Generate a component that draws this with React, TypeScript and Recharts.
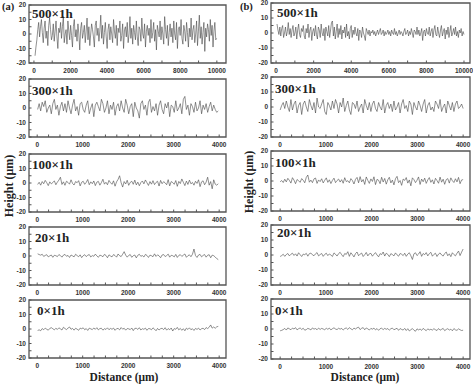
import { LineChart, Line, XAxis, YAxis, ReferenceArea } from "recharts";

// surface height profiles (µm)
const A500 = [
  -15, -9, -4, 3, 8, -2, 5, 10, 1, -6, 4, 9, -3, 2, -8, 6, 11, 3, -4, -1,
  7, -5, 2, 9, -2, -10, 4, 1, 8, -3, 5, 12, -6, 0, 3, -7, 9, 2, -4, 6,
  -1, -9, 5, 10, -2, 3, -5, 7, 0, -11, 4, 8, -3, 1, 6, -6, 2, 11, -4, 5,
  -8, 0, 7, 3, -2, -9, 6, 9, -1, 4, -5, 2, 13, -3, 6, -7, 1, 8, -2, -10,
  3, 7, -4, 5, 0, -6, 10, 2, -3, 6, -8, 4, 1, 9, -5, -1, 7, -10, 3, 5,
  -2, 8, -6, 0, 12, -3, 4, -7, 6, 1, -4, 9, -2, -8, 5, 3, -5, 11, 0, -3,
  7, -9, 2, 6, -1, 4, -6, 10, -3, 1, 8, -5, 3, -11, 6, 2, -2, 9, -4, 5,
  0, -7, 12, 3, -3, 6, -8, 1, 7, -2, 4, -6, 9, 0, -4, 8, -10, 3, 5, -1,
  10, -3, -7, 6, 2, -5, 8, 1, -9, 4, -2, 11, -4, 3, 6, -6, 0, 9, -8, 2,
  13, -3, 5, -7, 1, 8, -12, 4, -2, 7, 3, -5, 10, -1, 6, -9, 2, 8, -4, -3,
];
const A300 = [
  -1, 3, -2, 4, 1, 5, -3, 0, 2, -4, 3, 6, -1, 2, -5, 1, 4, -2, 3, -3,
  5, 0, -4, 2, 6, -2, 1, -5, 3, 4, -1, -3, 2, 5, -4, 0, 3, -6, 2, 4,
  1, -2, 6, 3, -3, 0, 5, -4, 2, -1, 4, -5, 1, 3, -2, 5, 0, -3, 6, 2,
  -4, 1, 3, -6, 4, 0, -2, -7, 3, 5, -1, 2, -5, 4, 6, -3, 1, -2, 3, -5,
  2, 5, -1, -4, 3, 0, 4, -6, 2, 1, -3, 5, -2, 0, 3, -4, 6, 8, -1, 2,
  -5, 3, 1, -3, 4, -2, 0, 5, -4, 2, -1, 3, -3, 1, 4, -2, 2, -1, -3, -2,
];
const A100 = [
  -1, 0.5, -1.5, 1, -0.5, 1.8, 0.2, -1.8, 0.8, -0.6, 0.3, 1.5, -1.2, 0.6, 2, 4, -1, 0.8, -1.6, 1.2,
  0.4, -0.8, 2.2, -0.3, -1.4, 1, 0.2, 1.6, -2, 0.5, 1.2, -0.9, 0.4, 2.4, -1.2, 0.8, -0.5, 1.4, -1.8, 0.6,
  1.1, -1.5, 0.3, 2.6, -0.8, 0.5, -1.2, 1.8, 0.2, -0.9, 1.5, -2.2, 0.8, 2.5, 5, 0.2, -2.8, 1, -0.7, 1.9,
  -1.6, 0.4, 1.2, -0.9, 2, -1.3, 0.6, -1.9, 0.3, 1.4, -0.6, 2.1, 0.2, -1.7, 1, -0.8, 1.6, -1.1, 0.4, 1.2,
  -2.1, 1.8, -0.5, 0.9, 0.1, -1.2, 2.3, -2, 1, 0.3, -0.9, 1.7, -2.3, 1.1, -0.4, 2.8, 0.5, -1.8, 1.3, -1,
  2, -0.6, 0.4, -1.5, 1.2, -0.3, 2.2, -2.5, 0.8, 1.5, -1.2, 0.6, 4, -1.5, 1, -4, 2.2, -0.8, -1.5, -0.5,
];
const A20 = [
  1.5, 1, 0.6, 1.2, -0.3, 0.4, 0.9, -0.6, 0.1, 0.7, -0.9, 0.5, 0.2, -0.4, 1, 0.3, -0.8, 0.6, 1.1, -0.2,
  0.4, -1, 0.7, 0.1, -0.6, 1.2, 0.3, -0.5, 0.8, -1.1, 0.2, 0.9, -0.4, 0.5, 1, -0.7, 0.3, -0.2, 1.3, 0.1,
  -0.9, 0.6, 0.2, -0.5, 1.1, 0.4, -1.2, 0.8, 0, -0.6, 1, 0.3, -0.8, 1.4, 0.2, -0.4, 1.2, 3, 0.6, -0.8,
  0.4, 1, -0.9, 0.2, 0.7, -1.3, 0.5, 1.2, -0.2, 0.3, -0.7, 1.1, 0.4, -1, 0.6, 0.2, -0.5, 1.5, -0.3, 0.8,
  0.1, -1.2, 0.7, 1, -0.4, 0.3, 1.3, -0.8, 0.5, 0.2, -0.6, 1.1, -1, 0.4, 0.9, -0.3, 0.6, 1.4, -0.9, 0.2,
  0.8, -0.5, 1.2, 4.8, 0.3, -1, 0.7, 1.1, -0.6, 0.4, 1, -0.8, 0.5, 0.9, -1.2, 0.6, 0.2, -0.7, -1.8, -2.5,
];
const A0 = [
  -1, -0.6, -1.2, 0.3, -0.5, 0.6, -0.2, -0.8, 0.4, 0.9, 0.2, -0.6, 0.5, -0.3, 0.8, 0.1, -0.7, 1.2, 0.3, -0.4,
  0.6, 1.4, -0.2, 0.4, -0.8, 0.5, -0.1, -0.9, 0.6, 0.2, 0.8, -0.5, 0.3, -1, 0.6, 0.1, -0.4, 0.7, -0.2, 0.9,
  -0.6, 0.3, 0.5, -0.8, 0.2, -0.3, 0.8, -0.5, 0.4, -0.2, 0.6, -0.9, 0.2, 0.4, -0.6, 1, -0.1, 0.5, -0.8, 0.3,
  0.1, -0.4, 0.7, -1.1, 0.4, 0.5, -0.3, 0.9, -0.7, 0.2, -0.2, 0.6, -0.9, 0.3, 0.2, -0.5, 0.8, -0.1, -1.2, 0.4,
  -0.7, 0.2, 0.5, -0.4, 0.9, -0.8, 0.3, -0.5, 0.7, -1.4, 0.3, -0.2, 1.1, -0.6, 0.4, -0.9, 0.2, -1.2, 0.6, -0.3,
  0.8, -0.5, 0.2, -1, 0.4, -0.3, 0.6, -0.7, 0.2, 0.5, -0.4, 1, 0.3, 1.2, 2.8, 0.6, 1.4, 0.5, 1.5, 1.8,
];
const B500 = [
  6, 2, -1, 4, -2, 3, 5, -3, 0, 4, -2, 1, 7, -1, 3, -3, 2, 5, -2, 0,
  4, -4, 2, 6, -1, -3, 3, 1, 5, -2, -4, 3, 0, 6, -3, 2, 4, -5, 1, 3,
  -2, 5, -1, -4, 4, 2, -3, 6, 0, -2, 3, -5, 4, 1, -2, 5, -3, 2, 7, 8,
  -2, 4, -4, 1, 6, -3, 3, -1, 5, -4, 2, 0, 4, -3, 6, -2, 1, -4, 3, 5,
  -3, 2, -1, 4, 0, -2, 3, -5, 2, 1, -3, 4, 0, -2, -5, 3, 1, -1, 2, -2,
  1, 0, 2, -1, 1, -2, 0, 2, -1, 1, 3, -1, 0, 2, -2, 1, -1, 0, 2, -1,
  1, -2, 2, 0, -1, 3, -1, 1, -2, 0, 2, -1, 1, 0, -2, 1, 3, -1, 0, 2,
  -2, 1, -1, 3, 0, -3, 2, 1, -1, 4, -1, 2, -2, 0, 3, -5, 1, 2, -2, 3,
  0, -1, 4, -2, 1, 3, -3, 2, 5, -1, -2, 4, 0, -3, 2, 5, -2, 1, 3, -4,
  2, -1, 4, -3, 1, 5, -2, 0, 3, -1, 4, -2, 1, -3, 2, 0, 3, -2, 1, -1,
];
const B300 = [
  -2, 1, 3, -1, 4, 0, -3, 5, -2, 2, 4, -4, 1, 3, -5, 2, 4, 0, -3, 5,
  1, -2, 3, -4, 6, 0, -1, 2, 5, -3, -5, 3, 1, -2, 4, -1, 5, 2, -4, 3,
  0, 6, -3, 1, 4, -2, -5, 3, 2, -1, 4, -3, 0, 2, -4, 5, 1, -2, 3, -3,
  2, 4, -1, -3, 3, 0, -2, 5, -4, 1, 3, -1, 2, -3, 4, -2, 0, 3, -4, 2,
  5, -1, 1, -3, 4, 2, -5, 3, 0, -2, 4, 1, -3, 2, 5, -4, 1, 3, -2, 0,
  -3, 4, 2, -1, 5, -3, 0, 2, -4, 4, 1, -2, 3, -3, 2, 4, -1, 0, 2, -1,
];
const B100 = [
  -0.5, 0.3, -1, 1.2, -0.6, 1.8, 0.4, -1.4, 2.2, 0.6, -1.8, 1, 0.2, -0.9, 1.6, 0.5, -1.2, 2.4, 4, -0.8,
  0.6, -1.1, 1.4, 2, -1.6, 0.7, -0.4, 1.5, -1.3, 0.5, 2.1, -0.9, 0.8, -1.7, 0.4, 1.9, -1.1, 0.3, 1.3, -0.7,
  0.9, -1.5, 2.2, -0.4, 0.2, -1.2, 1.6, 0.3, -2, 1.1, 2.4, -1.2, 2.9, -0.6, 1, -2.3, 2.7, 0.4, -1.6, 1.4,
  -0.3, 2.8, -2.4, 1.1, 0.5, -1.8, 2.5, -0.7, 1.7, -2.1, 0.8, 2.5, -1.3, 0.6, -2.6, 1.5, 3.1, -1.1, 0.3, -2.9,
  1.3, 0.4, 2.3, -1.4, 0.7, -3.2, 2.1, 0.9, -1.1, 0.5, 2.7, -2.3, 1.3, -0.5, 1.9, -1.6, 0.7, 2.3, -0.9, 0.8,
  -2, 1.8, 0.3, -1.5, 2.6, -0.8, 1.2, -2.2, 0.9, 1.6, -1.4, 2.1, 0.2, -1, 1.5, -0.6, 2.4, -1.8, 0.7, 0.9,
];
const B20 = [
  -1, -0.4, 0.5, -0.9, 0.3, 1, -0.6, 0.5, 1.2, -0.3, 0.8, -0.7, 1.5, 0.2, -1, 0.6, 0.2, 1.1, -0.8, 0.9,
  1.3, 0.1, -0.5, 0.8, 1.6, -0.6, 0.3, 1, -0.9, 0.4, 1.2, -0.4, 0.7, 0, -1, 1.4, 0.5, -0.7, 0.9, 1.8,
  0.2, -1.1, 1, 0.4, 2.2, -0.9, 1.5, 0.2, -1.3, 0.9, 2, -0.5, 0.6, 1.3, -1, 0.2, 1.7, -0.6, 0.8, 1.1,
  -0.8, 0.5, 1.6, 0, -1.2, 0.9, 0.3, 2, -0.7, 1.2, 0.4, -1.1, 0.9, 0.3, -0.6, 1.4, 0.1, -0.8, 1, 0.5,
  -0.4, 1.2, -0.9, 0.6, 1.5, -0.5, -3, 0.8, 1.5, -0.4, 0.6, 2.2, -0.9, 1, 0.2, 1.6, -0.6, 0.9, 1.8, -0.8,
  0.4, 1.2, -1, 0.6, 1.4, 0, -0.7, 1, 2, -0.5, 0.8, -1.1, 1.5, 0.3, -0.6, 1.2, 2.6, -0.4, 1.9, 4,
];
const B0 = [
  -1.2, -0.9, -0.4, 0.4, -0.7, 0.7, 0.1, -0.5, 0.6, 0, 0.9, -0.6, 0.2, 0.7, -0.3, 0.5, -0.8, -0.4, 0.4, 0,
  -0.6, 0.7, -0.1, 0.3, -0.5, 0.6, -0.3, 0.4, 0, -0.5, 0.5, -0.2, 0.6, -0.6, 0.2, 0.8, 0, -0.4, 0.5, -0.1,
  0.4, -0.7, 0.3, 0.7, -0.3, 0.9, 0.1, -0.5, 0.6, 0, 0.8, 1.2, -0.4, 0.5, 0.9, -0.5, 0.7, 0.1, -0.7, 0.4,
  -0.1, 0.6, -0.6, 0.3, -0.9, 0.2, 0.5, -0.4, 0.4, -0.2, 0.3, -0.8, 0.2, 0.6, -0.5, 0, 0.5, -0.9, 0.3, -0.3,
  -0.7, 0.4, -1, 0.2, -1.3, -0.5, 0.3, -0.8, -1.5, 0.1, -0.6, 0, -0.9, 0.4, -0.4, -1.1, 0.1, -0.6, -0.2, -0.7,
  0.2, -0.5, -1, 0.3, -0.8, -0.2, 0.4, -1.1, -0.3, 0.2, -0.7, -0.1, -1.2, 0.3, -0.6, -0.9, 0.1, -0.5, -1, -0.8,
];

const LABELS = ["500×1h", "300×1h", "100×1h", "20×1h", "0×1h"];
const Y_TICKS = [-20, -15, -10, -5, 0, 5, 10, 15, 20];
const X_TICKS_LONG = [0, 1000, 2000, 3000, 4000, 5000, 6000, 7000, 8000, 9000, 10000];
const X_TICKS_SHORT = [
  0, 250, 500, 750, 1000, 1250, 1500, 1750, 2000, 2250, 2500, 2750, 3000, 3250, 3500, 3750, 4000,
];

const LEFT = {
  chartX: 0, frameX: 29, frameR: 226, tops: [5, 79, 154, 227, 300], h: 58,
  labelX: [32, 32, 32, 35, 37], labelY: [18, 95, 169, 242, 315],
  long: [-270, 10500], short: [-180, 4150],
  spanLong: [60, 9990], spanShort: [10, 3980],
};
const RIGHT = {
  chartX: 240, frameX: 271, frameR: 470, tops: [3, 77, 151, 225, 299], h: 60,
  labelX: [277, 275, 275, 277, 275], labelY: [17, 93, 167, 237, 315],
  long: [-270, 10320], short: [-200, 4150],
  spanLong: [50, 10000], spanShort: [0, 4000],
};

const SERIF = "'Liberation Serif', 'Times New Roman', 'DejaVu Serif', serif";
const TICK_FONT = { fontSize: 6.5, fontWeight: 700, fill: "#333", fontFamily: "'Liberation Sans', Arial, sans-serif" };
const INK = "#474747";

function Panel({ heights, span, domain, ticks, every, col, top }: any) {
  const stepX = (span[1] - span[0]) / (heights.length - 1);
  const data = heights.map((v: number, i: number) => ({ d: span[0] + i * stepX, h: v }));
  const padTop = 4;
  const axisH = 14;
  return (
    <div style={{ position: "absolute", left: col.chartX, top: top - padTop }}>
      <LineChart
        width={col.frameR - col.chartX + 3}
        height={col.h + padTop + axisH}
        data={data}
        margin={{ top: padTop, right: 3, bottom: 0, left: 0 }}
      >
        <XAxis
          type="number"
          dataKey="d"
          domain={domain}
          ticks={ticks}
          interval={0}
          allowDataOverflow
          axisLine={false}
          tickSize={-2.5}
          tickMargin={7.5}
          height={axisH}
          tickLine={{ stroke: "#555" }}
          tick={TICK_FONT}
          tickFormatter={(v: number) => (v % every === 0 ? String(v) : "")}
        />
        <YAxis
          type="number"
          domain={[-20, 20]}
          ticks={Y_TICKS}
          interval={0}
          width={col.frameX - col.chartX}
          axisLine={false}
          tickSize={-2.5}
          tickMargin={5.5}
          tickLine={{ stroke: "#555" }}
          tick={TICK_FONT}
          tickFormatter={(v: number) => (v % 10 === 0 ? String(v) : "")}
        />
        <ReferenceArea
          x1={domain[0]}
          x2={domain[1]}
          y1={-20}
          y2={20}
          fill="none"
          stroke="#555"
          strokeWidth={1.3}
          fillOpacity={0}
        />
        <Line
          type="linear"
          dataKey="h"
          stroke={INK}
          strokeWidth={0.6}
          dot={false}
          isAnimationActive={false}
        />
      </LineChart>
    </div>
  );
}

export default function App() {
  const left = [A500, A300, A100, A20, A0];
  const right = [B500, B300, B100, B20, B0];
  const txt = { fontFamily: SERIF, fontWeight: 700, fill: "#222" };
  return (
    <div
      style={{
        position: "absolute",
        left: 0,
        top: 0,
        width: 474,
        height: 385,
        background: "#fff",
        overflow: "hidden",
      }}
    >
      {left.map((hs, i) => (
        <Panel
          key={"a" + i}
          heights={hs}
          span={i === 0 ? LEFT.spanLong : LEFT.spanShort}
          domain={i === 0 ? LEFT.long : LEFT.short}
          ticks={i === 0 ? X_TICKS_LONG : X_TICKS_SHORT}
          every={i === 0 ? 2000 : 1000}
          col={LEFT}
          top={LEFT.tops[i]}
        />
      ))}
      {right.map((hs, i) => (
        <Panel
          key={"b" + i}
          heights={hs}
          span={i === 0 ? RIGHT.spanLong : RIGHT.spanShort}
          domain={i === 0 ? RIGHT.long : RIGHT.short}
          ticks={i === 0 ? X_TICKS_LONG : X_TICKS_SHORT}
          every={i === 0 ? 2000 : 1000}
          col={RIGHT}
          top={RIGHT.tops[i]}
        />
      ))}
      <svg
        width={474}
        height={385}
        style={{ position: "absolute", left: 0, top: 0, pointerEvents: "none" }}
      >
        <text x={2} y={10} fontSize={10.5} style={txt}>(a)</text>
        <text x={240} y={10} fontSize={10.5} style={txt}>(b)</text>
        {LABELS.map((t, i) => (
          <text key={"la" + i} x={LEFT.labelX[i]} y={LEFT.labelY[i]} fontSize={13} style={txt}>
            {t}
          </text>
        ))}
        {LABELS.map((t, i) => (
          <text key={"lb" + i} x={RIGHT.labelX[i]} y={RIGHT.labelY[i]} fontSize={13} style={txt}>
            {t}
          </text>
        ))}
        <text transform="translate(13,186) rotate(-90)" textAnchor="middle" fontSize={12} style={txt}>
          Height (μm)
        </text>
        <text transform="translate(253,182) rotate(-90)" textAnchor="middle" fontSize={12} style={txt}>
          Height (μm)
        </text>
        <text x={124} y={381} textAnchor="middle" fontSize={11.5} style={txt}>
          Distance (μm)
        </text>
        <text x={365} y={381} textAnchor="middle" fontSize={11.5} style={txt}>
          Distance (μm)
        </text>
      </svg>
    </div>
  );
}
